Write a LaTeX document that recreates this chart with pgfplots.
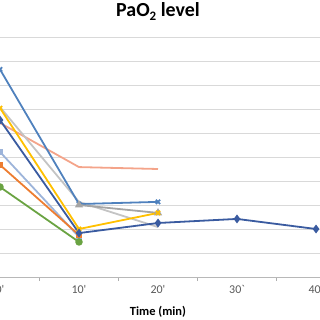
\documentclass[border=0pt]{standalone}
\usepackage{pgfplots}
\pgfplotsset{compat=1.18}
\usepackage{fontspec}
\newfontfamily\calibri{Carlito}

\definecolor{sBlueX}{HTML}{4F81BD}
\definecolor{sDark}{HTML}{3A5BA0}
\definecolor{sOrange}{HTML}{ED7D31}
\definecolor{sGray}{HTML}{A5A5A5}
\definecolor{sGold}{HTML}{FFC000}
\definecolor{sSilver}{HTML}{C4C4C4}
\definecolor{sSalmon}{HTML}{F4A48A}
\definecolor{sSteel}{HTML}{9DB4DA}
\definecolor{sGreen}{HTML}{6AA342}
\definecolor{gridc}{HTML}{D9D9D9}
\definecolor{tickc}{HTML}{595959}

\begin{document}
\begin{tikzpicture}[x=1bp,y=1bp]
\useasboundingbox (0,-43) rectangle (320,277);
\clip (0,-43) rectangle (320,277);

\node[anchor=base, font=\calibri\bfseries\fontsize{20}{24}\selectfont]
  at (158,261) {PaO\raisebox{-4bp}{\fontsize{13}{15}\selectfont 2} level};

\begin{axis}[
  at={(0,0)}, anchor=origin,
  scale only axis, width=395bp, height=240bp,
  xmin=-0.5, xmax=4.5, ymin=0, ymax=100,
  enlargelimits=false,
  xtick={0,1,2,3,4},
  xticklabels={0',10',20',30`,40'},
  minor xtick={-0.5,0.5,1.5,2.5,3.5,4.5},
  major tick length=0pt, minor tick length=4bp,
  tick align=outside,
  ytick={0,10,...,100}, yticklabels={},
  ymajorgrids, grid style={gridc, line width=0.8bp},
  minor tick style={color=gridc!80!black, line width=0.6bp},
  axis x line*=bottom, axis y line*=left,
  x axis line style={color=gridc!85!black, line width=0.8bp, -},
  y axis line style={draw=none},
  tick label style={font=\calibri\fontsize{12}{14}\selectfont, text=tickc},
  xticklabel style={yshift=-5bp},
  xlabel={\bfseries Time (min)},
  xlabel style={font=\calibri\fontsize{12.5}{14}\selectfont, at={(axis description cs:0.5,0)}, anchor=center, yshift=-35bp},
  clip=false,
  every axis plot/.append style={line width=1.8bp, mark size=2.6bp, mark options={solid}},
]
% light series without markers
\addplot[color=sSalmon] coordinates {(0,64.2) (1,45.8) (2,45.0)};
\addplot[color=sSilver] coordinates {(0,70.8) (1,31.3) (2,20.8)};
\addplot[color=sSteel, mark=square*, mark size=2bp] coordinates {(0,52.1) (1,16.7)};
% marked series
\addplot[color=sBlueX, mark=x, mark size=3bp] coordinates {(0,86.5) (1,30.4) (2,31.3)};
\addplot[color=sGray, mark=triangle*, mark size=3bp, mark options={fill=sGray}] coordinates {(1,30.0) (2,26.7)};
\addplot[color=sGold, mark=x, mark size=3bp] coordinates {(0,70.4) (1,20.0) (2,26.7)};
\addplot[color=sOrange, mark=square*, mark size=2.2bp] coordinates {(0,46.7) (1,17.5)};
\addplot[color=sGreen, mark=*, mark size=2.8bp] coordinates {(0,37.5) (1,14.6)};
\addplot[color=sDark, mark=diamond*, mark size=3bp] coordinates {(0,65.4) (1,18.3) (2,22.5) (3,24.2) (4,20.0)};
\end{axis}
\end{tikzpicture}
\end{document}
